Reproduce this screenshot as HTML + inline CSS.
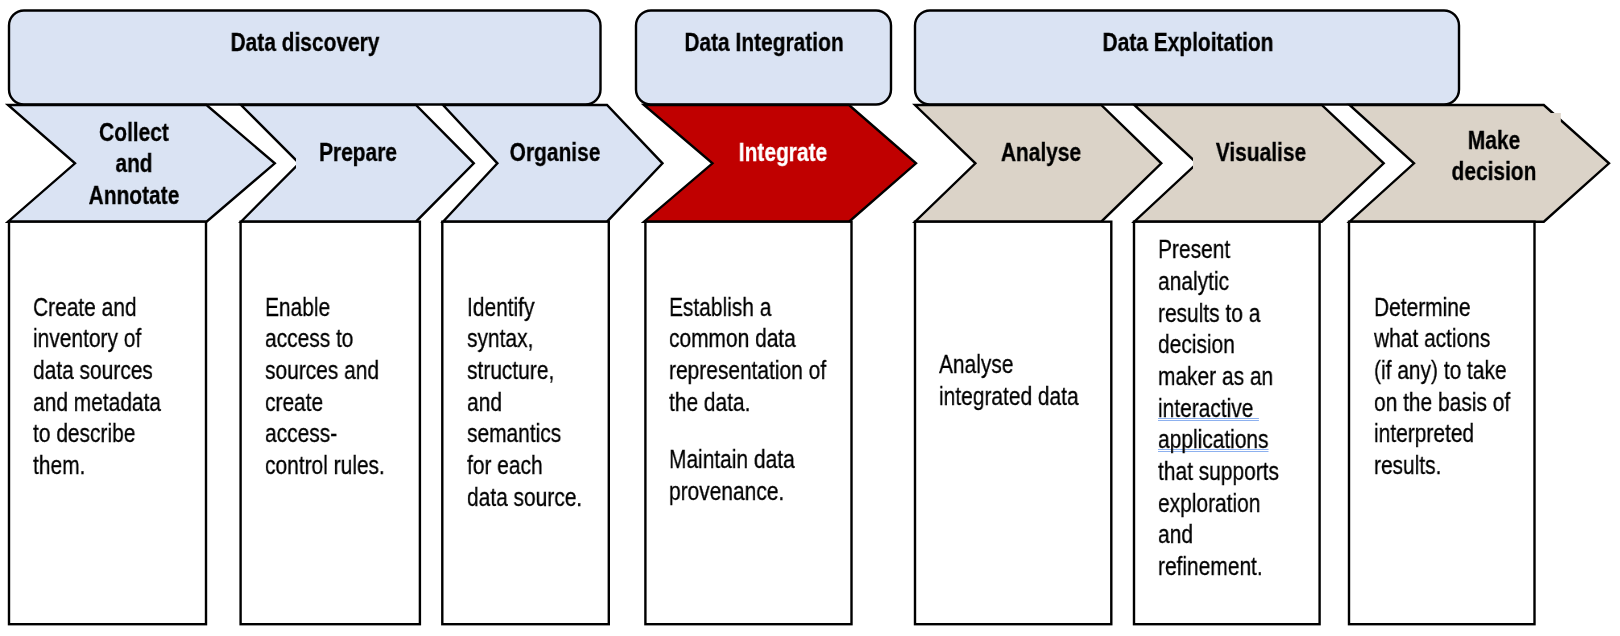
<!DOCTYPE html>
<html><head><meta charset="utf-8"><style>
html,body{margin:0;padding:0;background:#fff;width:1620px;height:636px;overflow:hidden;position:relative}
svg{position:absolute;left:0;top:0}
.t,.c{position:absolute;font-family:"Liberation Sans",sans-serif;font-size:26px;line-height:31.6px;white-space:pre;color:#000;will-change:transform;-webkit-text-stroke:0.3px currentColor}
.t{transform:scaleX(0.805);transform-origin:0 0}
.c{width:600px;text-align:center;transform:scaleX(0.79);transform-origin:300px 0}
.b{font-weight:bold;font-size:26.5px}
.u{text-decoration:underline double #8DB1EF;text-decoration-thickness:1px;text-underline-offset:1px;text-decoration-skip-ink:none}
</style></head><body>
<svg width="1620" height="636" viewBox="0 0 1620 636">
<rect x="9" y="10.5" width="591.5" height="94.0" rx="15" ry="15" fill="#DAE3F3" stroke="#000" stroke-width="2.4"/>
<rect x="636" y="10.5" width="255" height="94.0" rx="15" ry="15" fill="#DAE3F3" stroke="#000" stroke-width="2.4"/>
<rect x="915" y="10.5" width="544" height="94.0" rx="15" ry="15" fill="#DAE3F3" stroke="#000" stroke-width="2.4"/>
<polygon points="8,105 206.5,105 274.8,163.35 206.5,221.7 8,221.7 75,163.35" fill="#DAE3F3" stroke="#000" stroke-width="2.4" stroke-linejoin="miter"/>
<polygon points="241,105 415.9,105 473.8,163.35 415.9,221.7 241,221.7 299.2,163.35" fill="#DAE3F3" stroke="#000" stroke-width="2.4" stroke-linejoin="miter"/>
<rect x="296" y="155.35" width="7.199999999999989" height="16" fill="#DAE3F3"/>
<polygon points="443,105 607,105 662.5,163.35 607,221.7 443,221.7 497.4,163.35" fill="#DAE3F3" stroke="#000" stroke-width="2.4" stroke-linejoin="miter"/>
<polygon points="644,105 849,105 916,163.35 849,221.7 644,221.7 712.5,163.35" fill="#C00000" stroke="#000" stroke-width="2.4" stroke-linejoin="miter"/>
<polygon points="915,105 1101.2,105 1161.3,163.35 1101.2,221.7 915,221.7 975.4,163.35" fill="#DBD3C8" stroke="#000" stroke-width="2.4" stroke-linejoin="miter"/>
<polygon points="1134.2,105 1321.7,105 1383.7,163.35 1321.7,221.7 1134.2,221.7 1197,163.35" fill="#DBD3C8" stroke="#000" stroke-width="2.4" stroke-linejoin="miter"/>
<rect x="1193" y="155.35" width="8" height="16" fill="#DBD3C8"/>
<polygon points="1349.5,105 1543.8,105 1609,163.35 1543.8,221.7 1349.5,221.7 1414,163.35" fill="#DBD3C8" stroke="#000" stroke-width="2.4" stroke-linejoin="miter"/>
<rect x="1550" y="113" width="10.8" height="9" fill="#DBD3C8"/>
<rect x="9" y="221.7" width="197" height="402.50000000000006" fill="#fff" stroke="#000" stroke-width="2.4"/>
<rect x="240.6" y="221.7" width="179.29999999999998" height="402.50000000000006" fill="#fff" stroke="#000" stroke-width="2.4"/>
<rect x="442.3" y="221.7" width="166.49999999999994" height="402.50000000000006" fill="#fff" stroke="#000" stroke-width="2.4"/>
<rect x="645.4" y="221.7" width="206.10000000000002" height="402.50000000000006" fill="#fff" stroke="#000" stroke-width="2.4"/>
<rect x="915" y="221.7" width="196.29999999999995" height="402.50000000000006" fill="#fff" stroke="#000" stroke-width="2.4"/>
<rect x="1134" y="221.7" width="185.5999999999999" height="402.50000000000006" fill="#fff" stroke="#000" stroke-width="2.4"/>
<rect x="1349" y="221.7" width="185.5" height="402.50000000000006" fill="#fff" stroke="#000" stroke-width="2.4"/>
</svg>
<div class="c b" style="left:4.699999999999989px;top:27.00px;color:#000">Data discovery</div>
<div class="c b" style="left:464.1px;top:27.00px;color:#000">Data Integration</div>
<div class="c b" style="left:887.7px;top:27.00px;color:#000">Data Exploitation</div>
<div class="c b" style="left:-165.8px;top:117.00px;color:#000">Collect</div>
<div class="c b" style="left:-165.8px;top:148.00px;color:#000">and</div>
<div class="c b" style="left:-165.8px;top:180.00px;color:#000">Annotate</div>
<div class="c b" style="left:58.39999999999998px;top:137.00px;color:#000">Prepare</div>
<div class="c b" style="left:255.29999999999995px;top:137.00px;color:#000">Organise</div>
<div class="c b" style="left:483px;top:137.00px;color:#fff">Integrate</div>
<div class="c b" style="left:740.7px;top:137.00px;color:#000">Analyse</div>
<div class="c b" style="left:961.4000000000001px;top:137.00px;color:#000">Visualise</div>
<div class="c b" style="left:1193.5px;top:125.00px;color:#000">Make</div>
<div class="c b" style="left:1193.5px;top:156.00px;color:#000">decision</div>
<div class="t" style="left:33.2px;top:292.00px">Create and</div>
<div class="t" style="left:33.2px;top:323.00px">inventory of</div>
<div class="t" style="left:33.2px;top:355.00px">data sources</div>
<div class="t" style="left:33.2px;top:387.00px">and metadata</div>
<div class="t" style="left:33.2px;top:418.00px">to describe</div>
<div class="t" style="left:33.2px;top:450.00px">them.</div>
<div class="t" style="left:265.2px;top:292.00px">Enable</div>
<div class="t" style="left:265.2px;top:323.00px">access to</div>
<div class="t" style="left:265.2px;top:355.00px">sources and</div>
<div class="t" style="left:265.2px;top:387.00px">create</div>
<div class="t" style="left:265.2px;top:418.00px">access-</div>
<div class="t" style="left:265.2px;top:450.00px">control rules.</div>
<div class="t" style="left:466.8px;top:292.00px">Identify</div>
<div class="t" style="left:466.8px;top:323.00px">syntax,</div>
<div class="t" style="left:466.8px;top:355.00px">structure,</div>
<div class="t" style="left:466.8px;top:387.00px">and</div>
<div class="t" style="left:466.8px;top:418.00px">semantics</div>
<div class="t" style="left:466.8px;top:450.00px">for each</div>
<div class="t" style="left:466.8px;top:482.00px">data source.</div>
<div class="t" style="left:669.4px;top:292.00px">Establish a</div>
<div class="t" style="left:669.4px;top:323.00px">common data</div>
<div class="t" style="left:669.4px;top:355.00px">representation of</div>
<div class="t" style="left:669.4px;top:387.00px">the data.</div>
<div class="t" style="left:669.4px;top:444.00px">Maintain data</div>
<div class="t" style="left:669.4px;top:476.00px">provenance.</div>
<div class="t" style="left:939.1px;top:349.00px">Analyse</div>
<div class="t" style="left:939.1px;top:381.00px">integrated data</div>
<div class="t" style="left:1157.8px;top:234.00px">Present</div>
<div class="t" style="left:1157.8px;top:266.00px">analytic</div>
<div class="t" style="left:1157.8px;top:298.00px">results to a</div>
<div class="t" style="left:1157.8px;top:329.00px">decision</div>
<div class="t" style="left:1157.8px;top:361.00px">maker as an</div>
<div class="t" style="left:1157.8px;top:393.00px"><span class="u">interactive </span></div>
<div class="t" style="left:1157.8px;top:424.00px"><span class="u">applications</span></div>
<div class="t" style="left:1157.8px;top:456.00px">that supports</div>
<div class="t" style="left:1157.8px;top:488.00px">exploration</div>
<div class="t" style="left:1157.8px;top:519.00px">and</div>
<div class="t" style="left:1157.8px;top:551.00px">refinement.</div>
<div class="t" style="left:1373.6px;top:292.00px">Determine</div>
<div class="t" style="left:1373.6px;top:323.00px">what actions</div>
<div class="t" style="left:1373.6px;top:355.00px">(if any) to take</div>
<div class="t" style="left:1373.6px;top:387.00px">on the basis of</div>
<div class="t" style="left:1373.6px;top:418.00px">interpreted</div>
<div class="t" style="left:1373.6px;top:450.00px">results.</div>
</body></html>
